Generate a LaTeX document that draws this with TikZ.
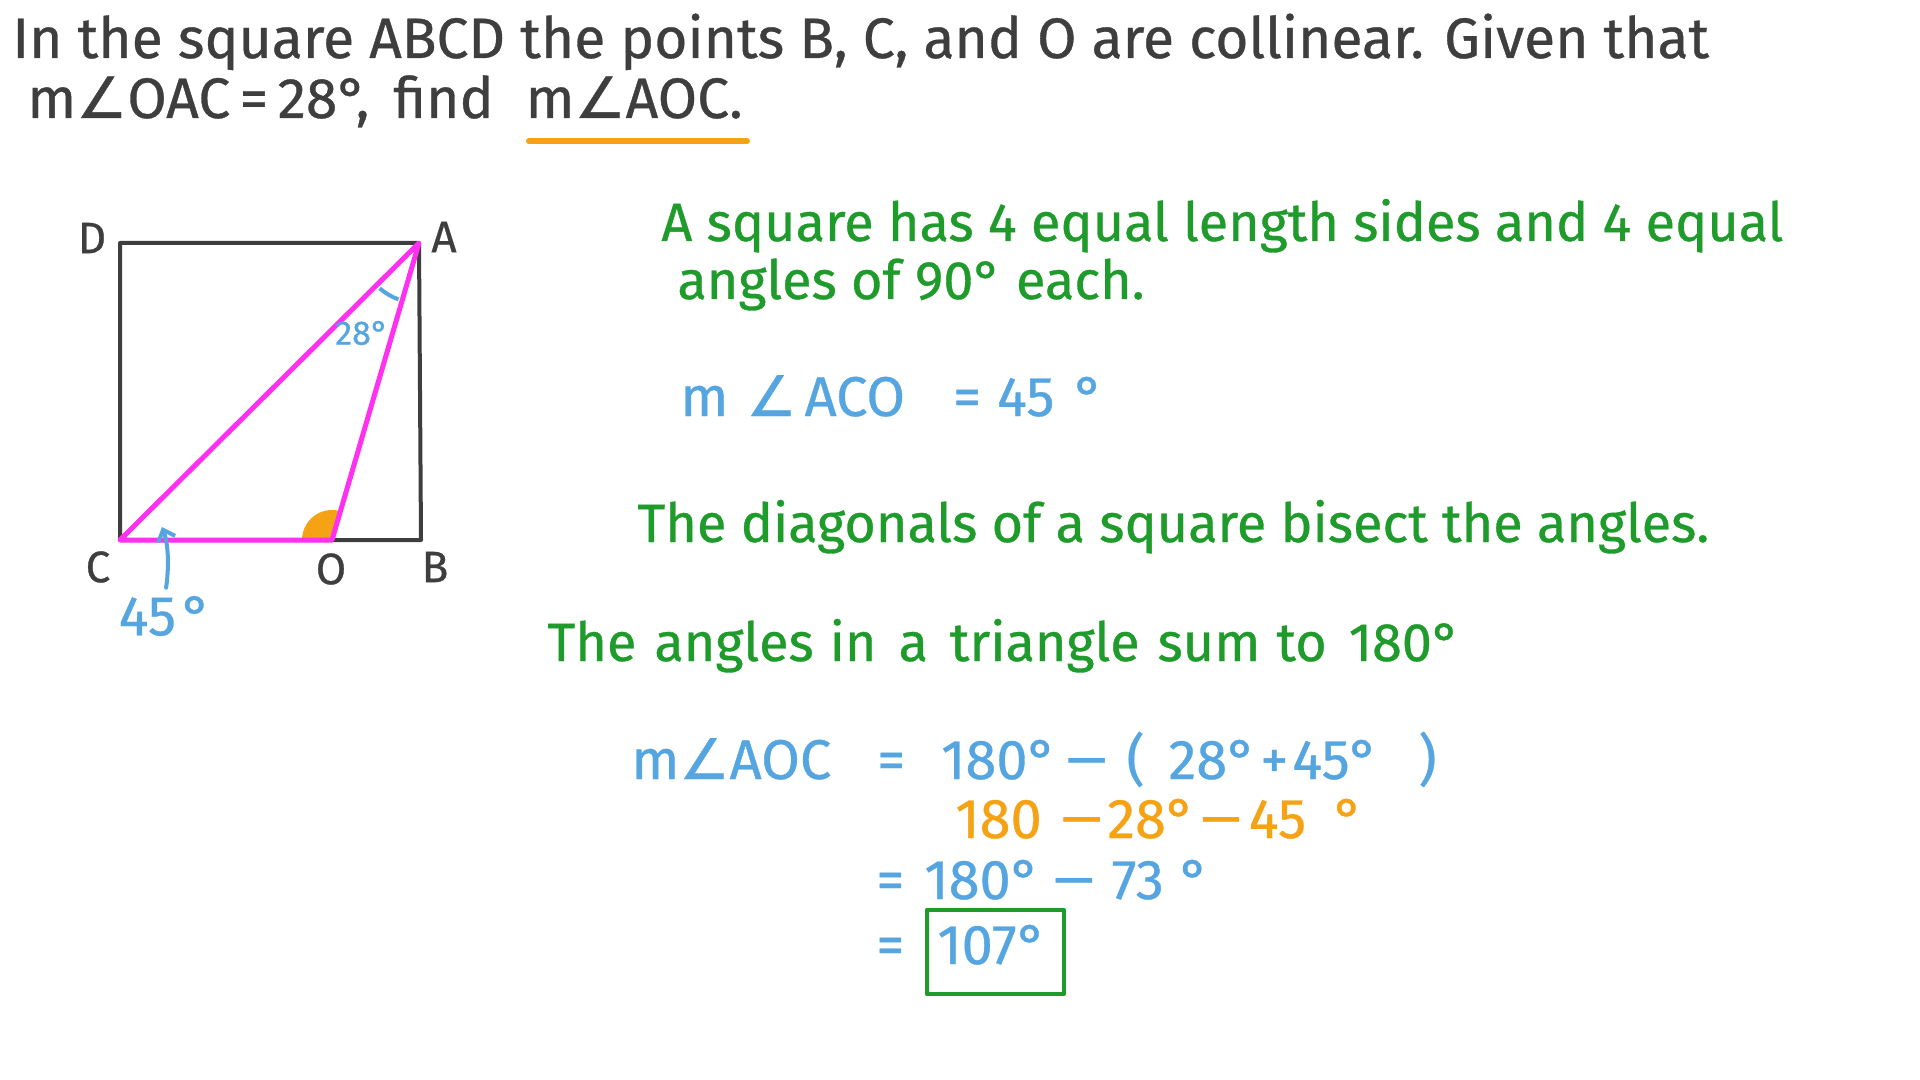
\documentclass[tikz,border=0pt]{standalone}
\usepackage{fontspec}
\setmainfont[FakeBold=0.6]{Fira Sans}
\newfontfamily\symf[FakeBold=0.6]{DejaVu Sans}
\usetikzlibrary{arrows.meta}
\definecolor{ink}{RGB}{62,62,62}
\definecolor{grn}{RGB}{30,155,42}
\definecolor{blu}{RGB}{85,165,224}
\definecolor{org}{RGB}{245,163,20}
\definecolor{mag}{RGB}{255,48,240}
\newcommand{\ang}{{\symf ∠}}
\newcommand{\mn}{\scalebox{1.7}[1]{−}}
\begin{document}
\begin{tikzpicture}[x=0.5pt,y=-0.5pt,
  txt/.style={inner sep=0pt, anchor=base west, font=\fontsize{28.5}{32}\selectfont},
  gtxt/.style={txt, text=grn, font=\fontsize{27}{32}\selectfont},
  btxt/.style={txt, text=blu, font=\fontsize{28}{32}\selectfont},
  otxt/.style={txt, text=org, font=\fontsize{28}{32}\selectfont},
  lbl/.style={inner sep=0pt, text=ink, font=\fontsize{22}{24}\selectfont},
  sq/.style={ink, line width=2pt, line cap=round, line join=round},
  tri/.style={mag, line width=2.5pt, line cap=round, line join=round}]
\fill[white] (0,0) rectangle (1920,1080);
\useasboundingbox (0,0) rectangle (1920,1080);
% header
\node[txt, text=ink] (t1) at (12,58) {In the square ABCD the points B, C, and O are collinear. Given that};
\node[txt, text=ink] (t2) at (27,118) {m\ang OAC\,=\,28°,\hspace{12pt}find\hspace{16pt}m\ang AOC.};
\coordinate (u1) at (529,141);
\coordinate (u2) at (747,141);
\draw[org, line width=3pt, line cap=round] (u1) -- (u2);
% square
\coordinate (D) at (120,243);
\coordinate (A) at (419,243);
\coordinate (C) at (120,540);
\coordinate (B) at (421,540);
\coordinate (O) at (332,540);
\fill[org] (O) -- ++(180:30) arc[start angle=180, end angle=286.1, radius=30] -- cycle;
\draw[sq] (C) -- (D) -- (A) -- (B) -- (C);
\draw[tri] (C) -- (A) -- (O) -- cycle;
\draw[blu, line width=2pt] (A) ++(110:60) arc[start angle=110, end angle=131, radius=60];
\node[lbl] (lD) at (92,238) {D};
\node[lbl] (lA) at (444,237) {A};
\node[lbl] (lC) at (98,567) {C};
\node[lbl] (lO) at (331,569) {O};
\node[lbl] (lB) at (435,567) {B};
\node[inner sep=0pt, text=blu, font=\fontsize{17}{18}\selectfont] (a28) at (362,333) {28°};
\node[inner sep=0pt, text=blu, font=\fontsize{28}{30}\selectfont] (a45) at (165,616) {45\hspace{3pt}°};
\coordinate (arrT) at (162,527);
\draw[blu, line width=2pt, line cap=round, shorten <=4pt, -{Straight Barb[length=5pt,width=9pt]}] (a45.north) .. controls (170,560) and (167,540) .. (arrT);
% right side
\node[gtxt] (g1) at (661,241) {A square has 4 equal length sides and 4 equal};
\node[gtxt] (g2) at (677,299) {angles of 90° each.};
\node[btxt] (b1) at (680,416) {m\hspace{9pt}\ang\hspace{4pt}ACO\hspace{24pt}=\hspace{8pt}45\hspace{10pt}°};
\node[gtxt] (g3) at (637,542) {The diagonals of a square bisect the angles.};
\node[gtxt] (g4) at (547,661) {The\hspace{9pt}angles\hspace{8pt}in\hspace{11pt}a\hspace{11pt}triangle\hspace{9pt}sum\hspace{8pt}to\hspace{11pt}180°};
\node[btxt] (b2) at (631,779) {m\ang AOC\hspace{23pt}=\hspace{18pt}180°\hspace{3pt}\mn\hspace{8pt}(\hspace{12pt}28°\hspace{2pt}+\hspace{2pt}45°\hspace{20pt})};
\node[otxt] (o1) at (955,838) {180\hspace{8pt}\mn\hspace{1pt}28°\hspace{1pt}\mn\hspace{2pt}45\hspace{14pt}°};
\node[btxt] (b3) at (876,899) {=\hspace{10pt}180°\hspace{5pt}\mn\hspace{7pt}73\hspace{8pt}°};
\node[btxt] (b4) at (876,964) {=};
\node[btxt] (b5) at (937,964) {107°};
\draw[grn, line width=2.2pt, line join=round] (927,910) rectangle (1064,994);
\end{tikzpicture}
\end{document}
